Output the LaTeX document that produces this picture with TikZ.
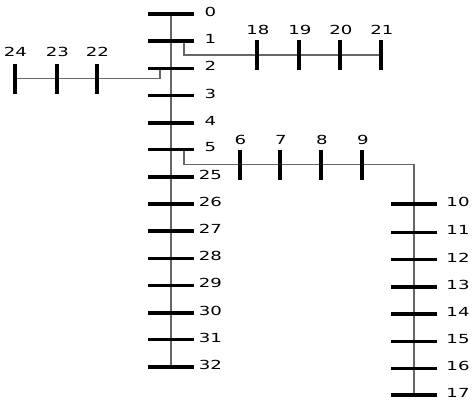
\documentclass[tikz,border=0pt]{standalone}
\usepackage{fontspec}
\newfontfamily\labfont[FakeStretch=1.45]{DejaVu Sans}
\usetikzlibrary{backgrounds}
\begin{document}
\begin{tikzpicture}[x=1pt,y=-1pt,
  hbus/.style={fill=black,inner sep=0pt,minimum width=46pt,minimum height=3.6pt},
  vbus/.style={fill=black,inner sep=0pt,minimum width=4pt,minimum height=30pt},
  lab/.style={font=\labfont\fontsize{12.5}{14}\selectfont,inner sep=0pt,text=black},
  wire/.style={draw=black!60,line width=1.2pt}]
\useasboundingbox (0,0) rectangle (474,405);
% main trunk buses
\foreach \n/\y in {0/14,1/41,2/68.3,3/95.6,4/122.7,5/149.5,25/176.8,26/204,27/231,28/258.3,29/285.4,30/312.7,31/339.5,32/366.7}{
  \node[hbus] (b\n) at (171,\y) {};
  \node[lab] (l\n) at (210.5,\y-2) {\n};
}
% feeder 10-17
\foreach \n/\y in {10/204,11/232.3,12/259.5,13/286.8,14/314,15/341.5,16/368.3,17/395}{
  \node[hbus] (b\n) at (414,\y) {};
  \node[lab] (l\n) at (458,\y-2) {\n};
}
% branch 18-21
\foreach \n/\x in {18/257,19/299,20/340,21/381}{
  \node[vbus] (b\n) at (\x,55) {};
  \node[lab] (l\n) at (\x+1,30) {\n};
}
% branch 6-9
\foreach \n/\x in {6/239.5,7/280,8/321,9/362}{
  \node[vbus] (b\n) at (\x,164.5) {};
  \node[lab] (l\n) at (\x+1,140) {\n};
}
% branch 22-24
\foreach \n/\x in {22/97,23/57,24/15}{
  \node[vbus] (b\n) at (\x,78.5) {};
  \node[lab] (l\n) at (\x+0.5,51.5) {\n};
}
\coordinate (j1) at (184,41);
\coordinate (j2) at (160,68.3);
\coordinate (j5) at (184,149.5);
\begin{scope}[on background layer]
\draw[wire] (b0.center) -- (b32.center);
\draw[wire] (j1) |- (b21.center);
\draw[wire] (j2) |- (b24.center);
\draw[wire] (j5) |- (b9.center) -| (b17.center);
\draw[wire] (b10.center) -- (b17.center);
\end{scope}
\end{tikzpicture}
\end{document}
